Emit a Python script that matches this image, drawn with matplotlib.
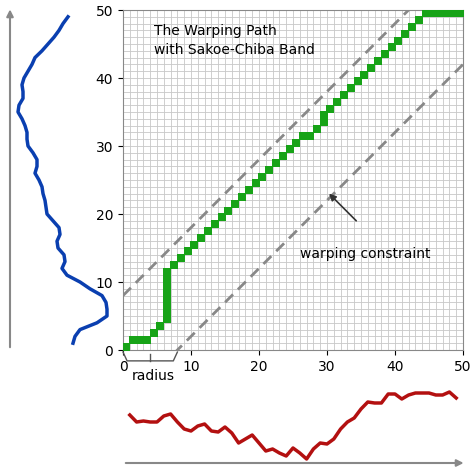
import numpy as np
import matplotlib
matplotlib.use("Agg")
import matplotlib.pyplot as plt

# warping path cells (i, j)
path_i = [0, 1, 2, 3, 4, 5, 6, 6, 6, 6, 6, 6, 6, 6] + list(range(7, 27)) + [27, 28, 29, 29] + list(range(30, 44)) + list(range(44, 50))
path_j = [0, 1, 1, 1, 2, 3, 4, 5, 6, 7, 8, 9, 10, 11] + list(range(12, 32)) + [31, 32, 33, 34] + list(range(35, 49)) + [49] * 6

radius = 8
n = 50

# series (index 1..49)
idx = np.arange(1, 50)
blue_x = [73, 75, 80, 97, 107, 107, 106, 102, 90, 80, 67, 62, 65, 64, 58, 57, 60, 59, 53, 47,
          46, 45, 43, 42, 39, 35, 37, 37, 33, 28, 27, 27, 25, 22, 18, 19, 23, 23, 22, 24,
          28, 32, 35, 42, 48, 54, 59, 63, 68]
red_y = [415, 422, 421, 422, 422, 416, 414, 422, 429, 431, 426, 424, 431, 432, 427, 433, 443, 439, 435, 443,
         451, 449, 453, 456, 448, 453, 459, 449, 443, 444, 439, 429, 422, 418, 409, 402, 403, 403, 394, 394,
         399, 395, 393, 393, 393, 395, 395, 392, 398]

fig = plt.figure(figsize=(4.74, 4.74), dpi=100)
W = 474.0
ax = fig.add_axes([123 / W, 124 / W, 340 / W, 340 / W])
ax.set_xlim(0, n)
ax.set_ylim(0, n)
ax.set_xticks(range(0, 51, 10))
ax.set_yticks(range(0, 51, 10))
ax.set_xticks(range(0, 51), minor=True)
ax.set_yticks(range(0, 51), minor=True)
ax.tick_params(which="minor", length=0)
ax.tick_params(labelsize=10)
ax.grid(which="both", color="#c8c8c8", lw=0.6)
ax.set_axisbelow(True)
for s in ax.spines.values():
    s.set_color("#888888")

ax.scatter(np.array(path_i) + 0.5, np.array(path_j) + 0.5, marker="s", s=26, color="#17a317", zorder=3, lw=0)

xs = np.array([0, n])
ax.plot(xs, xs + radius, ls="--", color="#888888", lw=2, dashes=(4, 2.5))
ax.plot(xs, xs - radius, ls="--", color="#888888", lw=2, dashes=(4, 2.5))

ax.text(4.5, 43.5, "The Warping Path\nwith Sakoe-Chiba Band", fontsize=10, linespacing=1.5)
ax.text(26, 13.5, "warping constraint", fontsize=10)
ax.annotate("", xy=(30.3, 23), xytext=(34.3, 19),
            arrowprops=dict(arrowstyle="-|>", color="#333333", lw=1.2, shrinkA=0, shrinkB=0))

# radius bracket
bx = [0, 0.6, 7.4, 8]
by = [-0.3, -1.6, -1.6, -0.3]
ax.plot(bx, by, color="#555555", lw=1, clip_on=False)
ax.plot([4, 4], [-1.6, -0.6], color="#555555", lw=1, clip_on=False)
ax.text(4.5, -3.8, "radius", fontsize=10, ha="center", va="center")

# left series
axl = fig.add_axes([0, 124 / W, 115 / W, 340 / W])
axl.set_xlim(0, 115)
axl.set_ylim(0, n)
axl.axis("off")
axl.plot(blue_x, idx, color="#0a3fb0", lw=2.5)
axl.annotate("", xy=(10, 50.5), xytext=(10, 0), annotation_clip=False,
             arrowprops=dict(arrowstyle="-|>", color="#888888", lw=1.5))

# bottom series
axb = fig.add_axes([123 / W, 0, 340 / W, 95 / W])
axb.set_xlim(0, n)
axb.set_ylim(474, 379)
axb.axis("off")
axb.plot(idx, red_y, color="#b31010", lw=2.5)
axb.annotate("", xy=(50.5, 463), xytext=(0, 463), annotation_clip=False,
             arrowprops=dict(arrowstyle="-|>", color="#888888", lw=1.5))

fig.savefig("out.png", dpi=100)
